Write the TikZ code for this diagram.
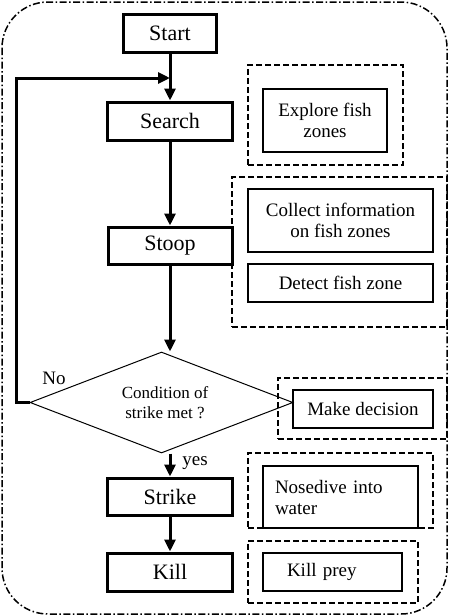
\documentclass[tikz,border=0pt]{standalone}
\usepackage{fontspec}
\setmainfont{Liberation Serif}
\usetikzlibrary{arrows.meta,shapes.geometric}
\begin{document}
\begin{tikzpicture}[x=1pt,y=-1pt,
 mainbox/.style={draw, line width=3pt, inner sep=0pt, font=\fontsize{22}{24}\selectfont},
 subbox/.style={draw, line width=2pt, inner sep=0pt, font=\fontsize{19}{21}\selectfont, align=center},
 groupbox/.style={draw, line width=1.7pt, dash pattern=on 6pt off 3pt, inner sep=0pt},
 flow/.style={line width=3pt, -{Triangle[length=12pt,width=11pt]}},
 lbl/.style={font=\fontsize{19}{21}\selectfont, inner sep=0pt}
]
\useasboundingbox (0,0) rectangle (450,616);
\draw[line width=1.5pt, dash pattern=on 7pt off 2.5pt on 1.5pt off 2.5pt, rounded corners=46pt] (2,2) rectangle (447,614);
% groups
\node[groupbox, minimum width=155pt, minimum height=100pt] (gexplore) at (325.5,115) {};
\node[groupbox, minimum width=215pt, minimum height=150pt] (gstoop) at (339.5,252) {};
\node[groupbox, minimum width=169pt, minimum height=61pt] (gdecide) at (362.5,408.5) {};
\node[groupbox, minimum width=185pt, minimum height=75pt] (gstrike) at (340.5,490.5) {};
\node[groupbox, minimum width=170pt, minimum height=62pt] (gkill) at (333,572) {};
% sub boxes
\node[subbox, minimum width=124pt, minimum height=63pt] (explore) at (325,120.5) {Explore fish\\zones};
\node[subbox, minimum width=185pt, minimum height=63pt] (collect) at (340.5,220.5) {Collect information\\on fish zones};
\node[subbox, minimum width=185pt, minimum height=38pt] (detect) at (340.5,283) {Detect fish zone};
\node[subbox, minimum width=140pt, minimum height=38pt] (decide) at (363,409) {Make decision};
\node[subbox, minimum width=155pt, minimum height=62pt, text width=131pt, align=left] (nosedive) at (340.5,497) {Nosedive into\\water};
\node[subbox, minimum width=139pt, minimum height=38pt, text width=91pt, align=left] (killprey) at (332.5,572) {Kill prey};
% main flow
\node[mainbox, minimum width=93pt, minimum height=38pt] (start) at (170,33) {Start};
\node[mainbox, minimum width=125pt, minimum height=38pt] (search) at (170,121) {Search};
\node[mainbox, minimum width=124pt, minimum height=37pt] (stoop) at (170,245.5) {Stoop};
\node[draw, diamond, line width=1pt, minimum width=263pt, minimum height=101pt, inner sep=0pt] (cond) at (161.5,402.5) {};
\node[font=\fontsize{17}{20}\selectfont, align=center, inner sep=0pt] (condtext) at (165,403) {Condition of\\strike met ?};
\node[mainbox, minimum width=125pt, minimum height=37pt] (strike) at (170,496.5) {Strike};
\node[mainbox, minimum width=125pt, minimum height=38pt] (kill) at (170,572) {Kill};
\node[lbl] (nolbl) at (54,378) {No};
\node[lbl] (yeslbl) at (195,463) {yes};
% connectors
\coordinate (merge) at (170,78);
\coordinate (loopc) at (16,78);
\draw[flow] (start) -- (search);
\draw[flow] (search) -- (stoop);
\draw[flow] (stoop.south) -- (stoop.south |- cond.north);
\draw[flow] (stoop.south |- cond.south) -- (strike.north);
\draw[flow] (strike) -- (kill);
\draw[flow] (cond.west) -| (loopc) -- (merge);
\end{tikzpicture}
\end{document}
